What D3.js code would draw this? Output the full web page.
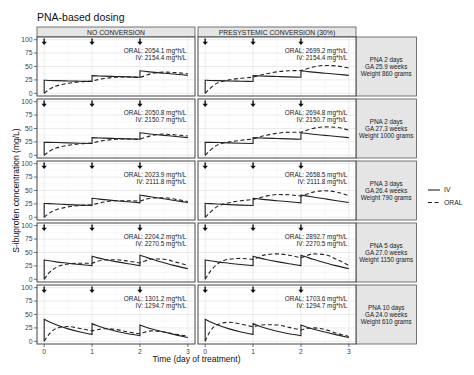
<!DOCTYPE html>
<html><head><meta charset="utf-8">
<script src="https://cdn.jsdelivr.net/npm/d3@7"></script>
<style>body{margin:0;background:#fff;} text{font-family:"Liberation Sans",Arial,sans-serif;}</style>
</head><body>
<svg id="c" width="474" height="375"></svg>
<script>
const title = "PNA-based dosing";
const columns = ["NO CONVERSION", "PRESYSTEMIC CONVERSION (30%)"];
const rowLabels = [
  ["PNA 2 days", "GA 25.9 weeks", "Weight 860 grams"],
  ["PNA 2 days", "GA 27.3 weeks", "Weight 1000 grams"],
  ["PNA 3 days", "GA 26.4 weeks", "Weight 790 grams"],
  ["PNA 5 days", "GA 27.0 weeks", "Weight 1150 grams"],
  ["PNA 10 days", "GA 24.0 weeks", "Weight 610 grams"]
];
const aucOral = [[2054.1, 2699.2], [2050.8, 2694.8], [2023.9, 2658.5], [2204.2, 2892.7], [1301.2, 1703.6]];
const aucIV = [2154.4, 2150.7, 2111.8, 2270.5, 1294.7];
const doseTimes = [0, 1, 2];
const offsets = [0, 0.1, 0.25, 0.5, 0.75, 1];
const ivPreDose = 0; // IV concentration just before the first dose
const xTicks = [0, 1, 2, 3];
const yTicks = [0, 25, 50, 75, 100];
// IV concentration per row, per dosing interval (values at dose time + offsets)
const ivValues = [
  [[24.3, 24, 23.6, 23, 22.5, 22], [33, 32.6, 32, 31.3, 30.6, 30], [42, 41, 39.5, 37.5, 35.5, 33.5]],
  [[24.5, 24.2, 23.8, 23.2, 22.6, 22], [33, 32.6, 32, 31.3, 30.6, 30], [42, 41, 39.3, 37.2, 35, 33]],
  [[26, 25.5, 24.8, 23.7, 22.8, 22], [35.5, 34.5, 33, 31, 29, 27], [41.5, 40, 38, 34.5, 31, 27.5]],
  [[36, 34.5, 32.5, 30, 27.5, 25.5], [43, 40.5, 37.5, 33, 29, 25.5], [45, 42, 37.5, 31, 25, 20]],
  [[41, 36.6, 30.8, 23.2, 17.4, 13], [33, 29.4, 24.8, 18.7, 14, 10.5], [30.5, 27.2, 22.9, 17.3, 12, 7]]
];
// ORAL, no conversion
const oralNoConv = [
  [[0, 7, 13.5, 18.5, 21.5, 23], [23, 25, 27.5, 30, 30.5, 29.5], [29.5, 32.5, 37, 39.5, 38.5, 36.5]],
  [[0, 7, 13.5, 18.5, 21.5, 23], [23, 25, 27.5, 30, 30.5, 30], [30, 33, 37, 39.5, 38, 36]],
  [[0, 7.5, 14, 19.5, 22, 23.5], [23.5, 25.5, 28.5, 31, 31, 30], [30, 33, 36, 36.5, 33.5, 29.5]],
  [[0, 12, 22, 28.5, 30, 30], [30, 33, 36, 36.5, 34, 30.5], [30.5, 34, 38, 37.5, 32, 26]],
  [[0, 13, 24, 27.5, 24, 19.5], [19.5, 21.5, 23.5, 22, 17.5, 14], [14, 17, 19.5, 17.5, 13, 9.5]]
];
// ORAL, presystemic conversion (30%)
const oralConv = [
  [[0, 9, 19, 25, 28, 30], [30, 32.5, 36, 40, 42, 42.5], [42.5, 45, 49, 52, 51, 47]],
  [[0, 9, 19, 25, 28, 30.5], [30.5, 33, 37, 41, 43, 43], [43, 46, 50, 53, 52, 47]],
  [[0, 9, 20, 27, 31, 33], [33, 35.5, 39, 42.5, 42, 39.5], [39.5, 42.5, 47, 49.5, 47, 40]],
  [[0, 14, 28, 37.5, 39, 37], [37, 40.5, 45.5, 47.5, 45, 40], [40, 43.5, 47.5, 46, 37, 26]],
  [[0, 18, 31, 35.5, 32, 27], [27, 29, 31, 30.5, 26, 21], [21, 23.5, 25, 22, 15, 9]]
];

const svg = d3.select("#c");
const colX = [[37, 195], [198, 356]];
const rowTop = [37, 99, 161, 223, 285];
const panelH = 59;
const stripRight = [356, 416.5];
const ink = "#222";

svg.append("text").attr("x", 37).attr("y", 21).attr("font-size", 10.5).attr("fill", "#111").text(title);

columns.forEach((c, ci) => {
  svg.append("rect").attr("x", colX[ci][0]).attr("y", 27).attr("width", colX[ci][1] - colX[ci][0]).attr("height", 10)
    .attr("fill", "#e5e5e5").attr("stroke", "#555").attr("stroke-width", 0.8);
  svg.append("text").attr("x", (colX[ci][0] + colX[ci][1]) / 2).attr("y", 34.8).attr("text-anchor", "middle")
    .attr("font-size", 6.8).attr("fill", "#222").text(c);
});

const lineGen = d3.line().x(d => d[0]).y(d => d[1]).curve(d3.curveMonotoneX);
function buildPath(segs, x, y, start) {
  let out = start === undefined ? "" : `M${x(doseTimes[0])},${y(start)}`;
  segs.forEach((seg, k) => {
    const pts = offsets.map((o, i) => [x(doseTimes[k] + o), y(seg[i])]);
    let p = lineGen(pts);
    if (out) p = "L" + p.slice(1);
    out += p;
  });
  return out;
}

rowTop.forEach((top, ri) => {
  const y = d3.scaleLinear().domain([-5, 105]).range([top + panelH, top]);
  svg.append("rect").attr("x", stripRight[0]).attr("y", top).attr("width", stripRight[1] - stripRight[0]).attr("height", panelH)
    .attr("fill", "#e5e5e5").attr("stroke", "#555").attr("stroke-width", 0.8);
  rowLabels[ri].forEach((t, li) => {
    svg.append("text").attr("x", (stripRight[0] + stripRight[1]) / 2).attr("y", top + panelH / 2 + 2.3 + (li - 1) * 7)
      .attr("text-anchor", "middle").attr("font-size", 6.3).attr("fill", "#222").text(t);
  });
  yTicks.forEach(t => {
    svg.append("line").attr("x1", 34).attr("x2", 37).attr("y1", y(t)).attr("y2", y(t)).attr("stroke", "#333").attr("stroke-width", 0.7);
    svg.append("text").attr("x", 32.5).attr("y", y(t) + 2.4).attr("text-anchor", "end").attr("font-size", 6.8).attr("fill", "#444").text(t);
  });
  colX.forEach((cx, ci) => {
    const x = d3.scaleLinear().domain([-0.15, 3.15]).range(cx);
    const g = svg.append("g");
    g.append("rect").attr("x", cx[0]).attr("y", top).attr("width", cx[1] - cx[0]).attr("height", panelH).attr("fill", "#fff");
    [12.5, 37.5, 62.5, 87.5].forEach(t => g.append("line").attr("x1", cx[0]).attr("x2", cx[1]).attr("y1", y(t)).attr("y2", y(t)).attr("stroke", "#f1f1f1").attr("stroke-width", 0.5));
    [0.5, 1.5, 2.5].forEach(t => g.append("line").attr("y1", top).attr("y2", top + panelH).attr("x1", x(t)).attr("x2", x(t)).attr("stroke", "#f1f1f1").attr("stroke-width", 0.5));
    yTicks.forEach(t => g.append("line").attr("x1", cx[0]).attr("x2", cx[1]).attr("y1", y(t)).attr("y2", y(t)).attr("stroke", "#e6e6e6").attr("stroke-width", 0.8));
    xTicks.forEach(t => g.append("line").attr("y1", top).attr("y2", top + panelH).attr("x1", x(t)).attr("x2", x(t)).attr("stroke", "#e6e6e6").attr("stroke-width", 0.8));
    g.append("path").attr("d", buildPath(ivValues[ri], x, y, ivPreDose)).attr("fill", "none").attr("stroke", ink).attr("stroke-width", 1.1);
    g.append("path").attr("d", buildPath(ci === 0 ? oralNoConv[ri] : oralConv[ri], x, y)).attr("fill", "none")
      .attr("stroke", ink).attr("stroke-width", 1.1).attr("stroke-dasharray", "4,2.6");
    doseTimes.forEach(d => {
      g.append("line").attr("x1", x(d)).attr("x2", x(d)).attr("y1", y(102)).attr("y2", y(94)).attr("stroke", "#111").attr("stroke-width", 1.4);
      g.append("path").attr("d", `M${x(d) - 2.7},${y(96)}L${x(d) + 2.7},${y(96)}L${x(d)},${y(90)}Z`).attr("fill", "#111");
    });
    g.append("text").attr("x", x(2.97)).attr("y", y(75)).attr("text-anchor", "end").attr("font-size", 6.4).attr("fill", "#222")
      .text(`ORAL: ${aucOral[ri][ci].toFixed(1)} mg*h/L`);
    g.append("text").attr("x", x(2.97)).attr("y", y(62)).attr("text-anchor", "end").attr("font-size", 6.4).attr("fill", "#222")
      .text(`IV: ${aucIV[ri].toFixed(1)} mg*h/L`);
    g.append("rect").attr("x", cx[0]).attr("y", top).attr("width", cx[1] - cx[0]).attr("height", panelH)
      .attr("fill", "none").attr("stroke", "#444").attr("stroke-width", 1);
    if (ri === rowTop.length - 1) {
      xTicks.forEach(t => {
        svg.append("line").attr("x1", x(t)).attr("x2", x(t)).attr("y1", top + panelH).attr("y2", top + panelH + 3).attr("stroke", "#333").attr("stroke-width", 0.7);
        svg.append("text").attr("x", x(t)).attr("y", top + panelH + 9.5).attr("text-anchor", "middle").attr("font-size", 6.8).attr("fill", "#444").text(t);
      });
    }
  });
});

svg.append("text").attr("x", (37 + 356) / 2).attr("y", 362).attr("text-anchor", "middle").attr("font-size", 8.5).attr("fill", "#111").text("Time (day of treatment)");
svg.append("text").attr("transform", `translate(19,${(37 + 344) / 2}) rotate(-90)`).attr("text-anchor", "middle").attr("font-size", 8.5).attr("fill", "#111").text("S-ibuprofen concentration (mg/L)");

const legend = [["IV", null, 190], ["ORAL", "4,2.6", 202.5]];
legend.forEach(([lab, dash, ly]) => {
  const l = svg.append("line").attr("x1", 428).attr("x2", 440).attr("y1", ly).attr("y2", ly).attr("stroke", ink).attr("stroke-width", 1.1);
  if (dash) l.attr("stroke-dasharray", dash);
  svg.append("text").attr("x", 444).attr("y", ly + 2.4).attr("font-size", 6.8).attr("fill", "#222").text(lab);
});
</script>
</body></html>
